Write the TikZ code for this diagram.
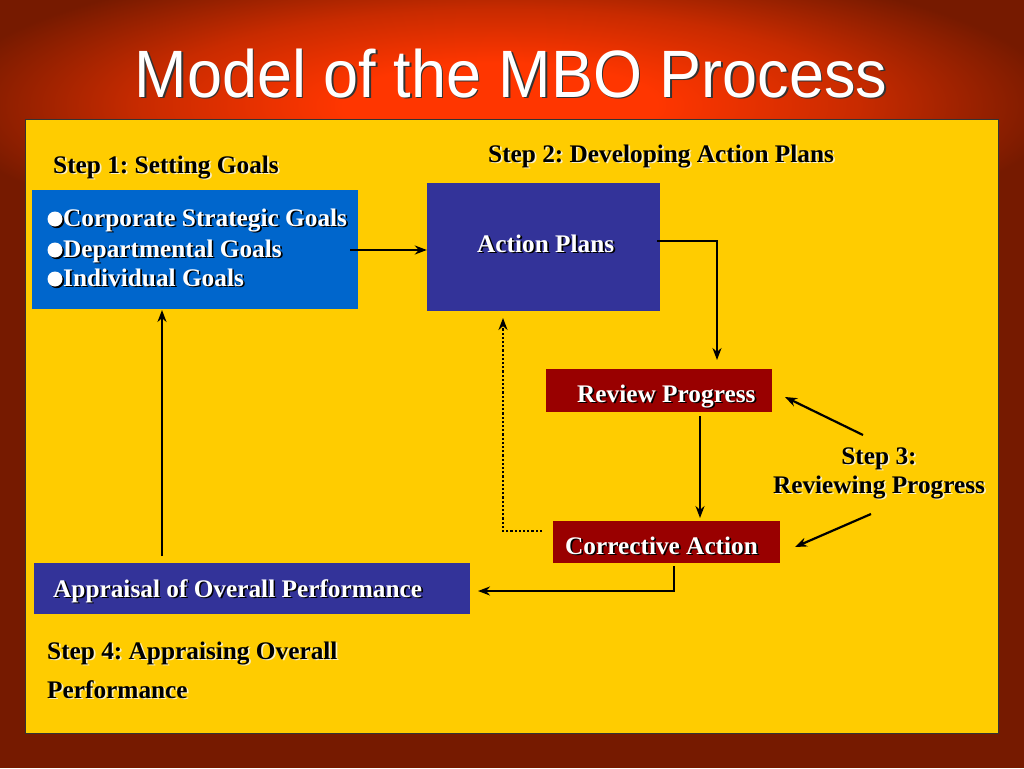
\documentclass[tikz,border=0pt]{standalone}
\usepackage{fontspec}
\setmainfont{Liberation Serif}
\newfontfamily\titlefont{Liberation Sans}
\usetikzlibrary{arrows.meta}
\definecolor{bgdark}{HTML}{761A00}
\definecolor{bgbright}{HTML}{FF3600}
\definecolor{panel}{HTML}{FFCC00}
\definecolor{goalblue}{HTML}{0066CC}
\definecolor{navy}{HTML}{333399}
\definecolor{maroon}{HTML}{990000}
\definecolor{lightshadow}{HTML}{F8EFC8}
\pgfdeclareradialshading{titleglow}{\pgfpoint{0bp}{0bp}}{%
  color(0bp)=(bgbright); color(7bp)=(bgbright); color(16bp)=(bgbright!60!bgdark);
  color(25bp)=(bgdark); color(50bp)=(bgdark)}
\newcommand\shd[2]{\makebox[0pt][l]{\color{#1}\hspace{1.7pt}\raisebox{-1.7pt}{#2}}#2}
\tikzset{
  box/.style={draw=none, inner sep=0pt},
  lbl/.style={font=\fontsize{25.3}{30}\selectfont\bfseries\frenchspacing, inner sep=0pt, anchor=base west},
  wlbl/.style={lbl, text=white},
  bullet/.style={circle, fill=white, inner sep=0pt, minimum size=15pt},
  bulletshadow/.style={circle, fill=black, inner sep=0pt, minimum size=15pt},
  conn/.style={line width=2.2pt, -{Stealth[length=12pt,width=9pt]}},
  dotconn/.style={line width=2.2pt, dotted, -{Stealth[length=12pt,width=9pt]}},
}
\begin{document}
\begin{tikzpicture}[x=1pt,y=-1pt]
\useasboundingbox (0,0) rectangle (1024,768);
% background
\fill[bgdark] (0,0) rectangle (1024,768);
\begin{scope}
\clip (0,0) rectangle (1024,768);
\shade[shading=titleglow] (500,105) ellipse (560 and 150);
\end{scope}
% panel
\fill[panel, draw=black!80, line width=0.8pt] (25,119) rectangle (998,733);
% title
\node[font=\titlefont\fontsize{67}{70}\selectfont, text=white, inner sep=0pt, anchor=base, xscale=0.94] (title) at (511,97) {\shd{black!80}{Model of the MBO Process}};
% boxes
\path[fill=goalblue] (32,190) rectangle (358,309);
\node[box, minimum width=326pt, minimum height=119pt] (goals) at (195,249.5) {};
\path[fill=navy] (427,183) rectangle (660,311);
\node[box, minimum width=233pt, minimum height=128pt] (plans) at (543.5,247) {};
\path[fill=maroon] (546,369) rectangle (772,412);
\node[box, minimum width=226pt, minimum height=43pt] (review) at (659,390.5) {};
\path[fill=maroon] (553,521) rectangle (780,563);
\node[box, minimum width=227pt, minimum height=42pt] (corrective) at (666.5,542) {};
\path[fill=navy] (34,563) rectangle (470,614);
\node[box, minimum width=436pt, minimum height=51pt] (appraisal) at (252,588.5) {};
% bullets
\node[bulletshadow] (b1s) at (56.7,220.7) {};
\node[bullet] (b1) at (55,219) {};
\node[bulletshadow] (b2s) at (56.7,251.7) {};
\node[bullet] (b2) at (55,250) {};
\node[bulletshadow] (b3s) at (56.7,280.7) {};
\node[bullet] (b3) at (55,279) {};
% texts
\node[lbl] (s1) at (53,173) {\shd{lightshadow}{Step 1: Setting Goals}};
\node[wlbl] (g1) at (63,226) {\shd{black}{Corporate Strategic Goals}};
\node[wlbl] (g2) at (63,257) {\shd{black}{Departmental Goals}};
\node[wlbl] (g3) at (63,286) {\shd{black}{Individual Goals}};
\node[lbl] (s2) at (488,162) {\shd{lightshadow}{Step 2: Developing Action Plans}};
\node[wlbl] (tplans) at (477,252) {\shd{black}{Action Plans}};
\node[wlbl] (treview) at (577,402) {\shd{black}{Review Progress}};
\node[wlbl] (tcorr) at (565,554) {\shd{black}{Corrective Action}};
\node[wlbl] (tappr) at (53,597) {\shd{black}{Appraisal of Overall Performance}};
\node[lbl, anchor=base] (s3a) at (879,464) {\shd{lightshadow}{Step 3:}};
\node[lbl, anchor=base] (s3b) at (879,493) {\shd{lightshadow}{Reviewing Progress}};
\node[lbl] (s4a) at (47,659) {\shd{lightshadow}{Step 4: Appraising Overall}};
\node[lbl] (s4b) at (47,698) {\shd{lightshadow}{Performance}};
% coordinates for connectors
\coordinate (a1s) at (350,250);
\coordinate (a2s) at (657,241);
\coordinate (a2c) at (717,241);
\coordinate (a2e) at (717,360);
\coordinate (a3s) at (700,416);
\coordinate (a3e) at (700,518);
\coordinate (a4s) at (674,566);
\coordinate (a4c) at (674,591);
\coordinate (a4e) at (478,591);
\coordinate (a5s) at (162,556);
\coordinate (a5e) at (162,310);
\coordinate (dts) at (542,531);
\coordinate (dtc) at (503,531);
\coordinate (dte) at (503,318);
\coordinate (t1s) at (863,435);
\coordinate (t1e) at (785,397);
\coordinate (t2s) at (871,514);
\coordinate (t2e) at (795,547);
% connectors
\draw[conn] (a1s) -- (a1s -| plans.west);
\draw[conn] (a2s) -- (a2c) -- (a2e);
\draw[conn] (a3s) -- (a3e);
\draw[conn] (a4s) -- (a4c) -- (a4e);
\draw[conn] (a5s) -- (a5e);
\draw[dotconn] (dts) -- (dtc) -- (dte);
\draw[conn] (t1s) -- (t1e);
\draw[conn] (t2s) -- (t2e);
\end{tikzpicture}
\end{document}
